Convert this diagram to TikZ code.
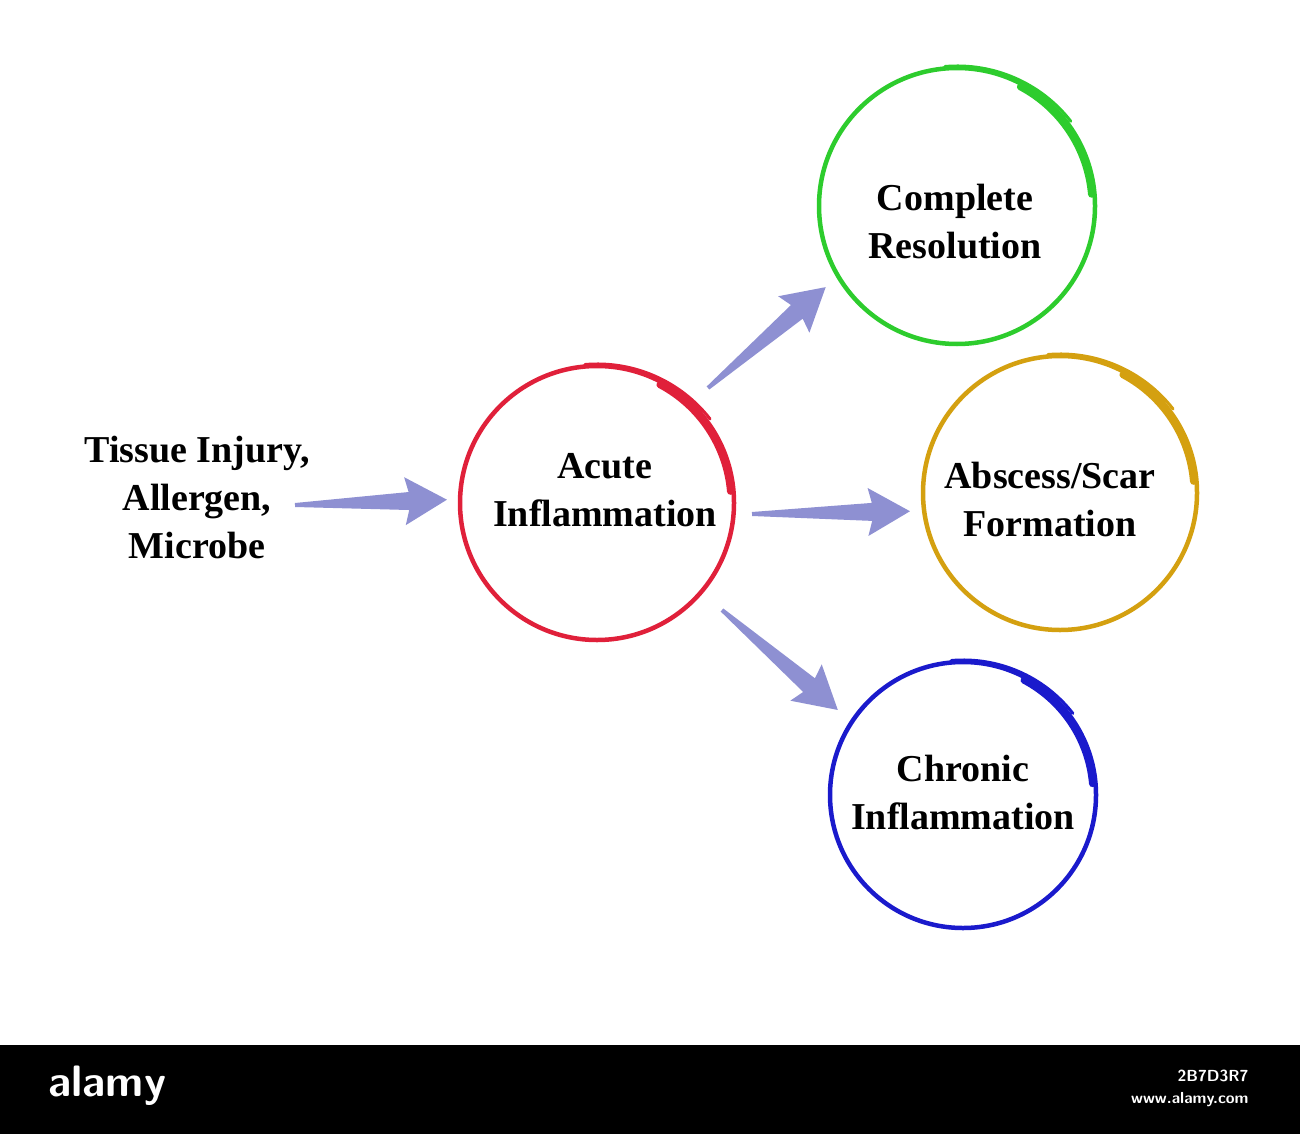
\documentclass[tikz,border=0pt]{standalone}
\usepackage{fontspec}
\setmainfont{Liberation Serif}
\begin{document}
\begin{tikzpicture}[x=1pt,y=-1pt,
  ring/.style={line width=4.5pt},
  lbl/.style={align=center,font=\bfseries\fontsize{38}{48}\selectfont},
  arr/.style={fill=arrowc,draw=none}]
\definecolor{arrowc}{HTML}{8E90D2}
\definecolor{cred}{HTML}{E0203A}
\definecolor{cgreen}{HTML}{2DCC2D}
\definecolor{cgold}{HTML}{D4A010}
\definecolor{cblue}{HTML}{1A1ACC}
\useasboundingbox (0,0) rectangle (1300,1134);
\fill[white] (0,0) rectangle (1300,1134);
\newcommand{\ringdraw}[4]{% x,y,r,color
  \draw[ring,#4] (#1,#2) circle (#3);
  \draw[#4,line width=7pt,line cap=round] ([shift={(-62:#3-3)}]#1,#2) arc[start angle=-62,end angle=-5,radius=#3-3];
  \draw[#4,line width=3pt,line cap=round] ([shift={(-95:#3+2)}]#1,#2) arc[start angle=-95,end angle=-38,radius=#3+6];
}
\ringdraw{597}{503}{137}{cred}
\ringdraw{957}{206}{138}{cgreen}
\ringdraw{1060}{493}{137}{cgold}
\ringdraw{963}{795}{133}{cblue}
\node[lbl] (src) at (197,497) {Tissue Injury,\\Allergen,\\Microbe};
\node[lbl] (acute) at (605,490) {Acute\\Inflammation};
\node[lbl] (comp) at (955,222) {Complete\\Resolution};
\node[lbl] (absc) at (1050,499) {Abscess/Scar\\Formation};
\node[lbl] (chron) at (963,792) {Chronic\\Inflammation};
\newcommand{\fatarrow}[4]{% x,y,angle,length
  \begin{scope}[shift={(#1,#2)},rotate=#3]
  \fill[arr] (0,2) -- (#4-38,9) -- (#4-42,24) -- (#4,0) -- (#4-42,-24) -- (#4-38,-9) -- (0,-2) -- cycle;
  \end{scope}}
\fatarrow{295}{505}{2}{152}
\fatarrow{708}{388}{40.6}{155}
\fatarrow{752}{514}{1}{158}
\fatarrow{722}{610}{-40.8}{153}
\fill[black] (0,1045) rectangle (1300,1134);
\node[white,font=\sffamily\bfseries\fontsize{44}{44}\selectfont,anchor=west] (alamy) at (45,1086) {alamy};
\node[white,font=\sffamily\bfseries\fontsize{16}{16}\selectfont,anchor=east] (id) at (1252,1076) {2B7D3R7};
\node[white,font=\sffamily\bfseries\fontsize{16}{16}\selectfont,anchor=east] (www) at (1252,1100) {www.alamy.com};
\end{tikzpicture}
\end{document}
